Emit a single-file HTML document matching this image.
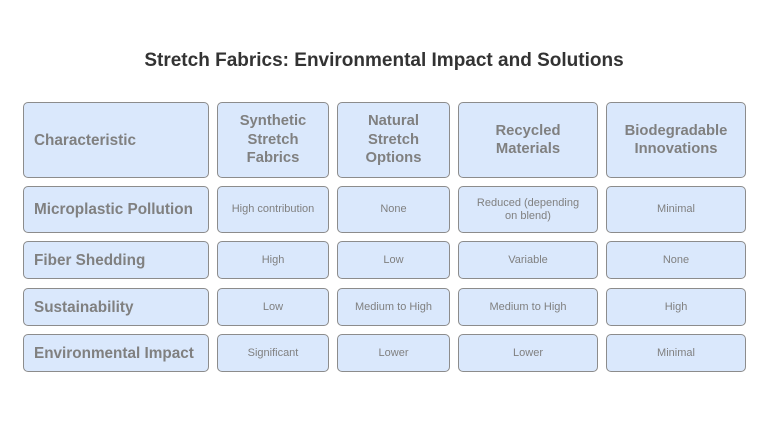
<!DOCTYPE html>
<html><head><style>
body{margin:0;width:768px;height:433px;background:#fff;font-family:"Liberation Sans",Arial,sans-serif;position:relative;overflow:hidden}
.t{position:absolute;left:0;width:768px;top:50px;text-align:center;font-weight:bold;font-size:19px;color:#333}
.c{position:absolute;box-sizing:border-box;background:#dae8fc;border:1.3px solid #8c8c8c;border-radius:5px;display:flex;align-items:center;justify-content:center;text-align:center;color:#808080;font-size:11px;line-height:13px;padding:0 4px}
.h{font-weight:bold;font-size:14.8px;line-height:18.5px}
.l{justify-content:flex-start;padding-left:10px;font-weight:bold;font-size:15.3px}
</style></head><body>
<div class="t">Stretch Fabrics: Environmental Impact and Solutions</div>
<div class="c l" style="left:23px;top:102px;width:186px;height:76px">Characteristic</div>
<div class="c h" style="left:217px;top:102px;width:112px;height:76px">Synthetic<br>Stretch<br>Fabrics</div>
<div class="c h" style="left:337px;top:102px;width:113px;height:76px">Natural<br>Stretch<br>Options</div>
<div class="c h" style="left:458px;top:102px;width:140px;height:76px">Recycled<br>Materials</div>
<div class="c h" style="left:606px;top:102px;width:140px;height:76px">Biodegradable<br>Innovations</div>

<div class="c l" style="left:23px;top:186px;width:186px;height:47px">Microplastic Pollution</div>
<div class="c" style="left:217px;top:186px;width:112px;height:47px">High contribution</div>
<div class="c" style="left:337px;top:186px;width:113px;height:47px">None</div>
<div class="c" style="left:458px;top:186px;width:140px;height:47px">Reduced (depending<br>on blend)</div>
<div class="c" style="left:606px;top:186px;width:140px;height:47px">Minimal</div>

<div class="c l" style="left:23px;top:241px;width:186px;height:38px">Fiber Shedding</div>
<div class="c" style="left:217px;top:241px;width:112px;height:38px">High</div>
<div class="c" style="left:337px;top:241px;width:113px;height:38px">Low</div>
<div class="c" style="left:458px;top:241px;width:140px;height:38px">Variable</div>
<div class="c" style="left:606px;top:241px;width:140px;height:38px">None</div>

<div class="c l" style="left:23px;top:288px;width:186px;height:38px">Sustainability</div>
<div class="c" style="left:217px;top:288px;width:112px;height:38px">Low</div>
<div class="c" style="left:337px;top:288px;width:113px;height:38px">Medium to High</div>
<div class="c" style="left:458px;top:288px;width:140px;height:38px">Medium to High</div>
<div class="c" style="left:606px;top:288px;width:140px;height:38px">High</div>

<div class="c l" style="left:23px;top:334px;width:186px;height:38px">Environmental Impact</div>
<div class="c" style="left:217px;top:334px;width:112px;height:38px">Significant</div>
<div class="c" style="left:337px;top:334px;width:113px;height:38px">Lower</div>
<div class="c" style="left:458px;top:334px;width:140px;height:38px">Lower</div>
<div class="c" style="left:606px;top:334px;width:140px;height:38px">Minimal</div>
</body></html>
